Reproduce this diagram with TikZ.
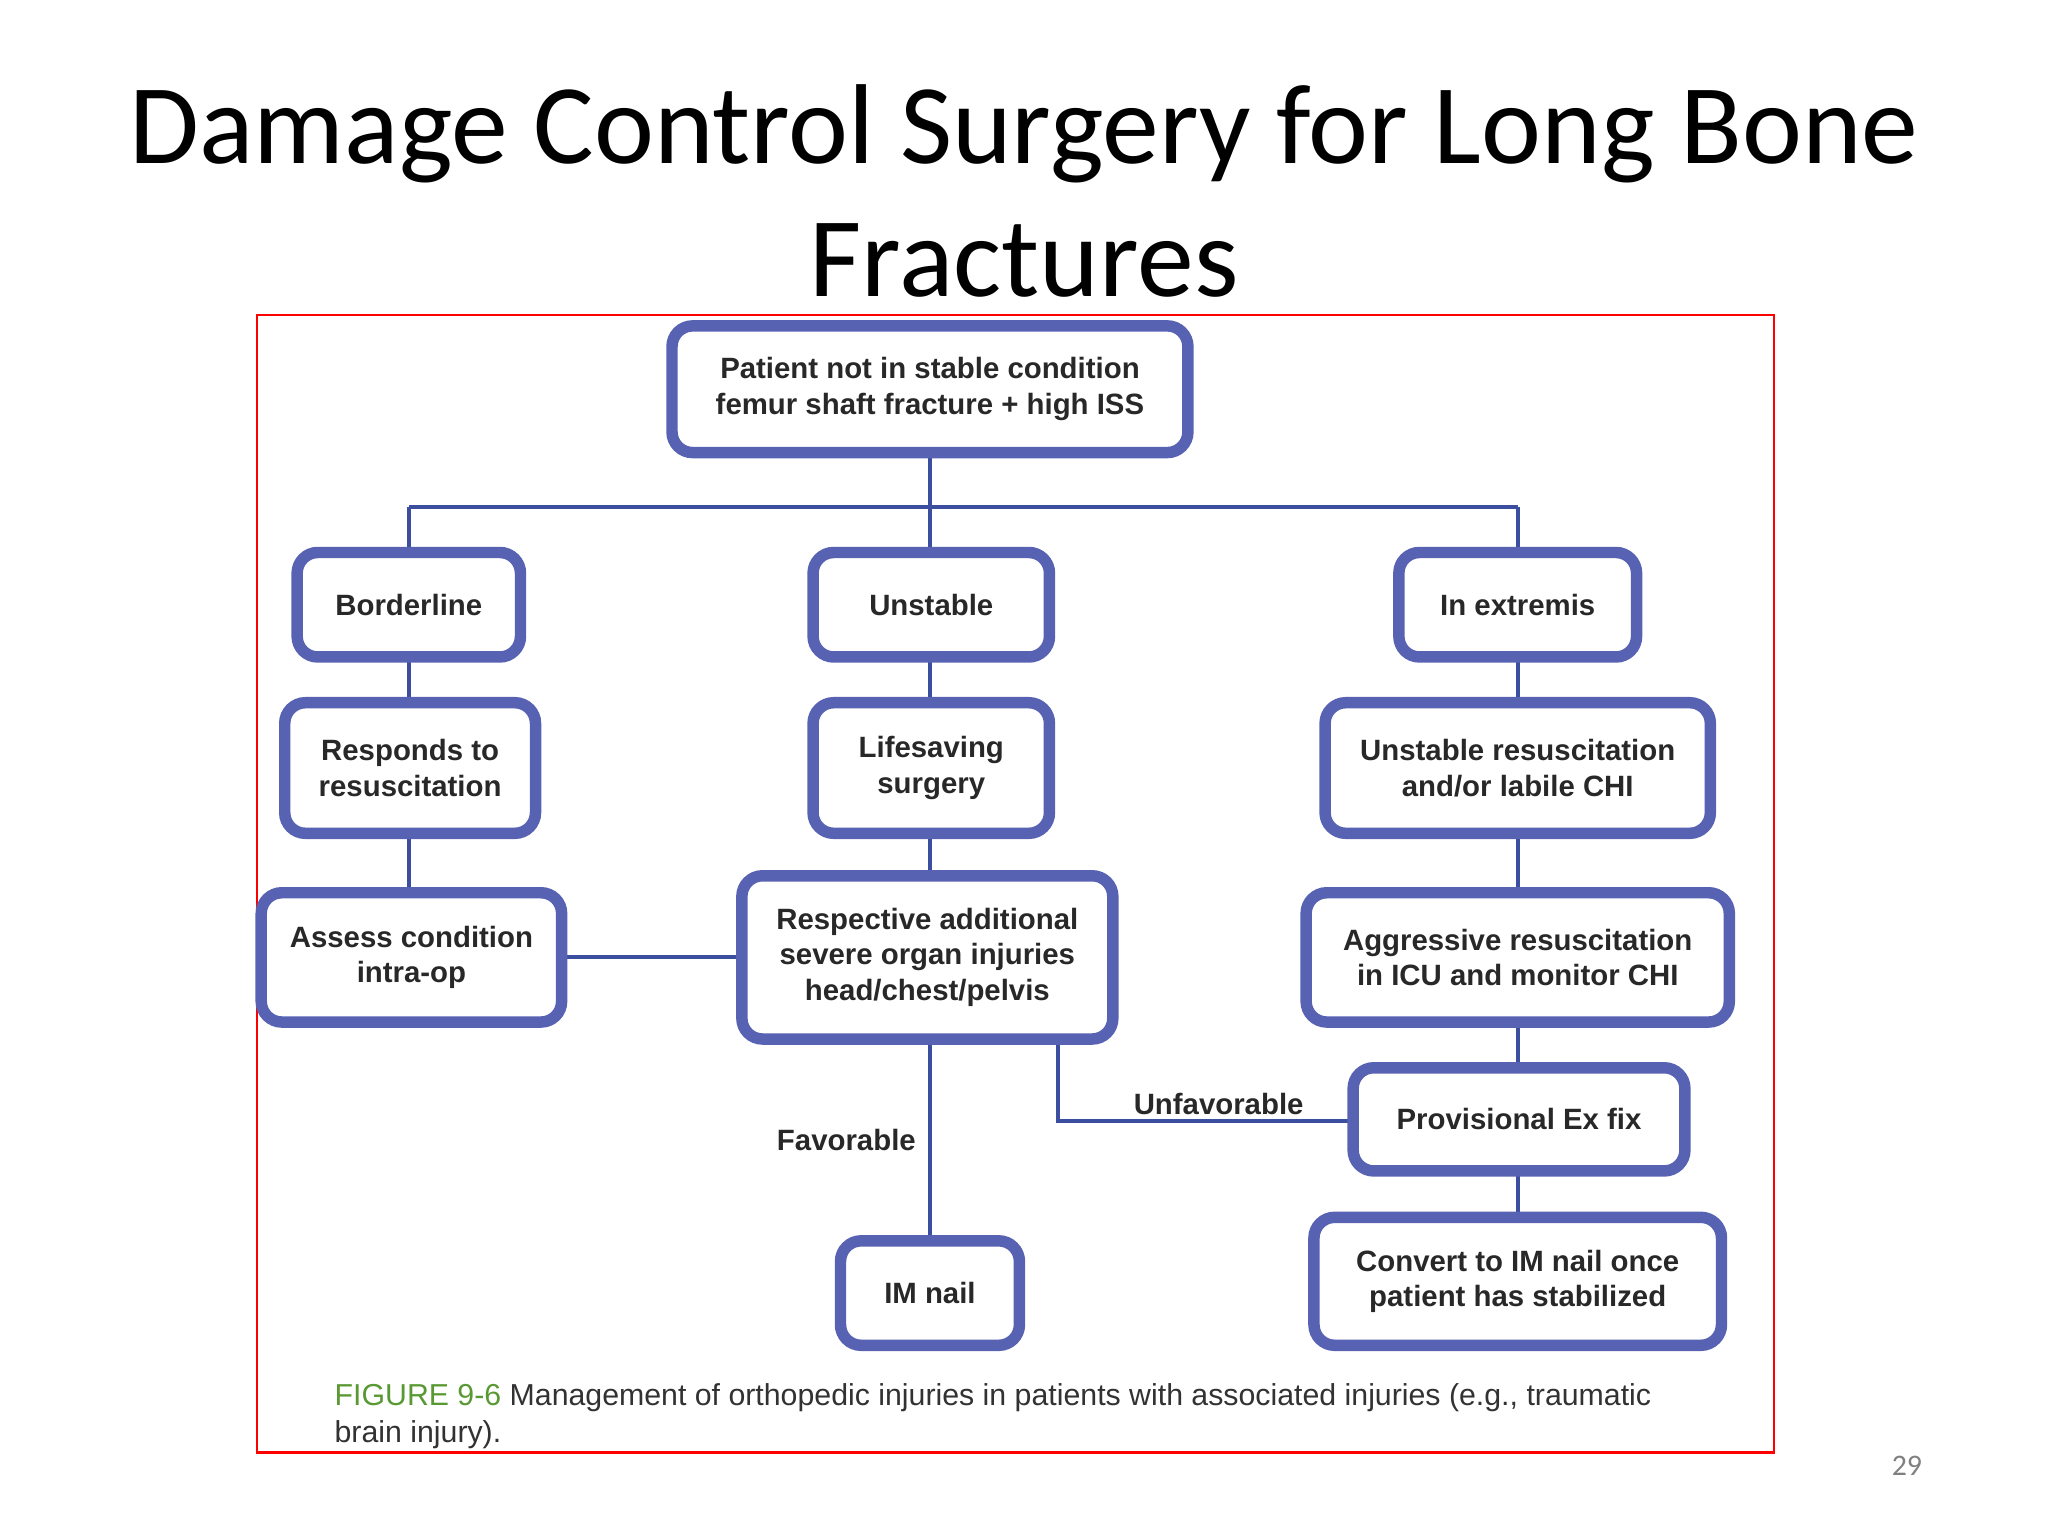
\documentclass[tikz,border=0pt]{standalone}
\usepackage{fontspec}
\setmainfont{Liberation Sans}
\newfontfamily\titlefont{Carlito}
\begin{document}
\begin{tikzpicture}[x=0.02cm,y=-0.02cm,
  fbox/.style={draw={rgb,255:red,88;green,98;blue,178},line width=5pt,fill=white,rounded corners=9pt,
    align=center,inner sep=0pt,font=\fontsize{12.8}{15.5}\selectfont\bfseries,text={rgb,255:red,40;green,40;blue,40}},
  conn/.style={draw={rgb,255:red,60;green,78;blue,160},line width=1.7pt},
  lbl/.style={font=\fontsize{12.8}{15.5}\selectfont\bfseries,text={rgb,255:red,40;green,40;blue,40}}]
\useasboundingbox (0,0) rectangle (1568,1176);
\node[font=\titlefont\fontsize{49.5}{58}\selectfont,align=center] (title) at (784,146) {Damage Control Surgery for Long Bone\\Fractures};
\draw[red,line width=1pt] (197,241) rectangle (1358,1112);
\coordinate (bl) at (313,388); \coordinate (br) at (1162,388); \coordinate (bm) at (712,388);
\coordinate (uf) at (810,858);
\draw[conn] (712,298) -- (712,990);
\draw[conn] (bl) -- (br);
\draw[conn] (bl) -- (313,733);
\draw[conn] (br) -- (1162,981);
\draw[conn] (315,733) -- (710,733);
\draw[conn] (810,733) -- (uf) -- (1163,858);
\node[fbox,minimum width=395*0.02cm,minimum height=97*0.02cm] (top) at (712,298) {Patient not in stable condition\\femur shaft fracture + high ISS};
\node[fbox,minimum width=171*0.02cm,minimum height=80*0.02cm] (border) at (313,463) {Borderline};
\node[fbox,minimum width=181*0.02cm,minimum height=80*0.02cm] (unst) at (713,463) {Unstable};
\node[fbox,minimum width=182*0.02cm,minimum height=80*0.02cm] (extr) at (1162,463) {In extremis};
\node[fbox,minimum width=192*0.02cm,minimum height=100*0.02cm] (resp) at (314,588) {Responds to\\resuscitation};
\node[fbox,minimum width=181*0.02cm,minimum height=100*0.02cm] (life) at (713,588) {Lifesaving\\surgery};
\node[fbox,minimum width=295*0.02cm,minimum height=100*0.02cm] (unres) at (1162,588) {Unstable resuscitation\\and/or labile CHI};
\node[fbox,minimum width=230*0.02cm,minimum height=99*0.02cm] (assess) at (315,733) {Assess condition\\intra-op};
\node[fbox,minimum width=284*0.02cm,minimum height=125*0.02cm] (respect) at (710,733) {Respective additional\\severe organ injuries\\head/chest/pelvis};
\node[fbox,minimum width=324*0.02cm,minimum height=99*0.02cm] (aggr) at (1162,733) {Aggressive resuscitation\\in ICU and monitor CHI};
\node[fbox,minimum width=254*0.02cm,minimum height=79*0.02cm] (prov) at (1163,857) {Provisional Ex fix};
\node[fbox,minimum width=137*0.02cm,minimum height=80*0.02cm] (im) at (712,990) {IM nail};
\node[fbox,minimum width=312*0.02cm,minimum height=98*0.02cm] (conv) at (1162,981) {Convert to IM nail once\\patient has stabilized};
\node[lbl] (unfav) at (933,845) {Unfavorable};
\node[lbl] (fav) at (648,873) {Favorable};
\node[anchor=north west,align=left,font=\fontsize{13.2}{16}\selectfont,text={rgb,255:red,50;green,50;blue,50}] (cap) at (250,1053)
 {{\color[rgb]{0.35,0.6,0.2}FIGURE 9-6} Management of orthopedic injuries in patients with associated injuries (e.g., traumatic\\brain injury).};
\node[font=\titlefont\fontsize{13}{15}\selectfont,text=gray] (pg) at (1460,1122) {29};
\end{tikzpicture}
\end{document}
